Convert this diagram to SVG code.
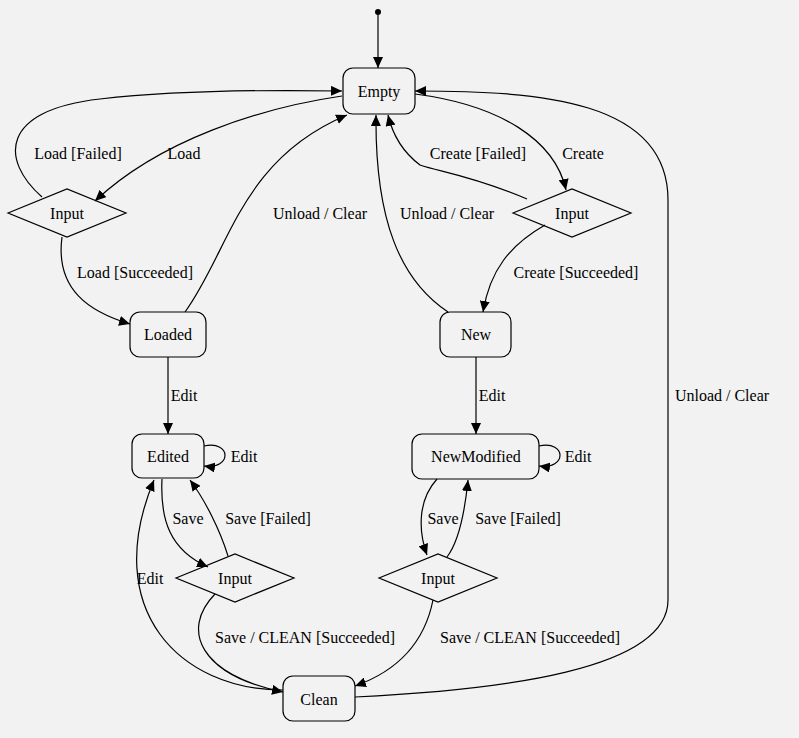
<svg xmlns="http://www.w3.org/2000/svg" width="799" height="738" viewBox="0 0 799 738">
<style>
text{font-family:"Liberation Serif","Times New Roman",serif;font-size:16px;fill:#000;text-anchor:middle;dominant-baseline:central}
.n{fill:#f2f2f2;stroke:#000;stroke-width:1.2}
.e{fill:none;stroke:#000;stroke-width:1.2;marker-end:url(#a)}
</style>
<defs><marker id="a" markerUnits="userSpaceOnUse" markerWidth="12" markerHeight="10" refX="11" refY="5" orient="auto"><path d="M0,0 L11,5 L0,10 Z" fill="#000"/></marker></defs>
<rect width="799" height="738" fill="#f2f2f2"/>
<g id="start"><circle cx="378" cy="12" r="3" fill="#000"/></g>
<g id="empty"><rect class="n" x="343" y="68" width="72" height="46" rx="10"/><text x="379" y="91">Empty</text></g>
<g id="inputL"><polygon class="n" points="8,213 67,189 126,213 67,237"/><text x="67" y="213">Input</text></g>
<g id="inputR"><polygon class="n" points="513,213 572,189 631,213 572,237"/><text x="572" y="213">Input</text></g>
<g id="loaded"><rect class="n" x="130" y="312" width="76" height="45" rx="10"/><text x="168" y="334">Loaded</text></g>
<g id="new"><rect class="n" x="440" y="312" width="71" height="45" rx="10"/><text x="476" y="334">New</text></g>
<g id="edited"><rect class="n" x="132" y="434" width="72" height="44" rx="10"/><text x="168" y="456">Edited</text></g>
<g id="newmod"><rect class="n" x="412" y="434" width="127" height="45" rx="10"/><text x="476" y="456">NewModified</text></g>
<g id="inputLL"><polygon class="n" points="176,578 235,554 294,578 235,602"/><text x="235" y="578">Input</text></g>
<g id="inputLR"><polygon class="n" points="379,578 438,554 497,578 438,602"/><text x="438" y="578">Input</text></g>
<g id="clean"><rect class="n" x="283" y="676" width="72" height="45" rx="10"/><text x="319" y="699">Clean</text></g>
<g id="edges">
<path class="e" d="M378,15 L378,68"/>
<path class="e" d="M342,96 C260,108 160,140 95,201"/>
<path class="e" d="M42,197 C0,160 0,110 100,99 C180,90 280,90 342,91"/>
<path class="e" d="M62,237 C55,290 90,312 130,324"/>
<path class="e" d="M185,312 C230,250 240,160 347,115"/>
<path class="e" d="M415,94 C500,105 555,140 566,190"/>
<path class="e" d="M527,199 C470,175 440,172 420,165 C400,150 392,132 388,115"/>
<path class="e" d="M545,225 C510,245 490,270 483,312"/>
<path class="e" d="M448,312 C400,280 375,220 376,115"/>
<path class="e" d="M168,357 L168,434"/>
<path class="e" d="M476,357 L476,434"/>
<path class="e" d="M204,446 C232,440 232,470 204,466"/>
<path class="e" d="M539,446 C567,440 567,470 539,466"/>
<path class="e" d="M162,479 C160,520 170,550 208,567"/>
<path class="e" d="M228,556 C220,530 205,500 190,480"/>
<path class="e" d="M437,479 C418,500 418,530 427,555"/>
<path class="e" d="M447,557 C460,540 465,510 468,480"/>
<path class="e" d="M215,594 C180,630 200,675 283,692"/>
<path class="e" d="M433,600 C425,640 400,670 355,686"/>
<path class="e" d="M283,690 C180,690 100,610 154,480"/>
<path class="e" d="M355,697 C500,690 668,670 668,600 L668,200 C668,100 540,91 415,91"/>
</g>
<g id="labels">
<text x="184" y="153">Load</text>
<text x="78" y="153">Load [Failed]</text>
<text x="135" y="272">Load [Succeeded]</text>
<text x="320" y="213">Unload / Clear</text>
<text x="583" y="153">Create</text>
<text x="478" y="153">Create [Failed]</text>
<text x="576" y="272">Create [Succeeded]</text>
<text x="447" y="213">Unload / Clear</text>
<text x="184" y="395">Edit</text>
<text x="492" y="395">Edit</text>
<text x="244" y="456">Edit</text>
<text x="578" y="456">Edit</text>
<text x="188" y="518">Save</text>
<text x="268" y="518">Save [Failed]</text>
<text x="443" y="518">Save</text>
<text x="518" y="518">Save [Failed]</text>
<text x="305" y="637">Save / CLEAN [Succeeded]</text>
<text x="530" y="637">Save / CLEAN [Succeeded]</text>
<text x="150" y="578">Edit</text>
<text x="722" y="395">Unload / Clear</text>
</g>
</svg>
